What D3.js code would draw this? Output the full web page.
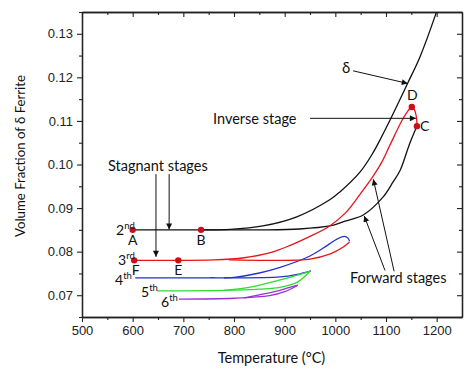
<!DOCTYPE html>
<html>
<head>
<meta charset="utf-8">
<script src="https://cdn.jsdelivr.net/npm/d3@7"></script>
<style>
  body { margin: 0; background: #fff; }
  .tick text { font-family: "Liberation Sans", Arial, sans-serif; font-size: 13px; fill: #222; }
  .ann { font-family: Lato, "Open Sans", sans-serif; font-size: 14px; fill: #111; }
</style>
</head>
<body>
<svg id="chart"></svg>
<script>
// temperature (°C) vs volume fraction
var deltaCurve = [[600,0.085],[735,0.085],[792,0.0851],[857,0.0859],[924,0.0880],[989,0.0919],[1009,0.0937],[1049,0.0983],[1074,0.1026],[1088,0.1056],[1108,0.1102],[1143,0.1187],[1167,0.1247],[1199,0.1348],[1205,0.137]];
var forward2 = [[735,0.085],[850,0.0850],[930,0.0852],[989,0.0859],[1019,0.0870],[1055,0.0884],[1094,0.0925],[1114,0.0960],[1128,0.0987],[1147,0.1049],[1161,0.1088]];
var red3 = [[603,0.078],[690,0.078],[760,0.0781],[820,0.0786],[870,0.0797],[910,0.0814],[950,0.0835],[989,0.0859],[1020,0.0889],[1049,0.0932],[1074,0.0972],[1092,0.1006],[1108,0.1045],[1132,0.1102],[1142,0.1121],[1151,0.1132],[1156,0.1126],[1160,0.1109],[1161,0.1088]];
var red3b = [[790,0.0781],[880,0.0780],[950,0.0783],[990,0.0795],[1015,0.0810],[1028,0.0822]];
var blue4 = [[605,0.074],[750,0.0740],[800,0.0741],[850,0.0751],[891,0.0764],[950,0.0790],[985,0.0815],[1005,0.0830],[1018,0.0835],[1025,0.0831],[1028,0.0824]];
var blue4b = [[780,0.0740],[891,0.0742],[925,0.0748],[952,0.0756]];
var green5 = [[648,0.0710],[780,0.0711],[850,0.0714],[891,0.0718],[925,0.0730],[950,0.0755]];
var green5b = [[780,0.0711],[830,0.0718],[891,0.0735],[930,0.0748],[950,0.0755]];
var purple6 = [[691,0.0691],[800,0.0693],[870,0.0699],[900,0.0708],[926,0.0723]];
var purple6b = [[820,0.0694],[880,0.0708],[910,0.0718],[926,0.0723]];

var points = [["A",600,0.085],["B",735,0.085],["F",603,0.078],["E",690,0.078],["D",1151,0.1132],["C",1161,0.1088]];
var xTicks = [500,600,700,800,900,1000,1100,1200];
var yTicks = [0.07,0.08,0.09,0.10,0.11,0.12,0.13];

var width = 474, height = 380;
var margin = {top: 12, right: 12, bottom: 63, left: 82};

var svg = d3.select("#chart").attr("width", width).attr("height", height);

var x = d3.scaleLinear().domain([500,1250]).range([margin.left, width - margin.right]);
var y = d3.scaleLinear().domain([0.065,0.135]).range([height - margin.bottom, margin.top]);

var xMinor = d3.range(550,1250,100), yMinor = d3.range(0.065,0.135,0.01);

svg.append("defs").append("clipPath").attr("id","clip")
  .append("rect").attr("x", margin.left).attr("y", margin.top)
  .attr("width", x.range()[1]-margin.left).attr("height", y.range()[0]-margin.top);

function axisStyle(g){
  g.select(".domain").attr("stroke","#222").attr("stroke-width",1.3);
  g.selectAll(".tick line").attr("stroke","#222").attr("stroke-width",1.1);
}

// bottom / left
svg.append("g").attr("transform","translate(0,"+y.range()[0]+")")
  .call(d3.axisBottom(x).tickValues(xTicks).tickFormat(d3.format("d")).tickSize(5).tickPadding(4).tickSizeOuter(0))
  .call(axisStyle);
svg.append("g").attr("transform","translate(0,"+y.range()[0]+")")
  .call(d3.axisBottom(x).tickValues(xMinor).tickFormat("").tickSize(3).tickSizeOuter(0)).call(axisStyle);
svg.append("g").attr("transform","translate("+margin.left+",0)")
  .call(d3.axisLeft(y).tickValues(yTicks).tickFormat(d3.format(".2f")).tickSize(5).tickPadding(4).tickSizeOuter(0))
  .call(axisStyle);
svg.append("g").attr("transform","translate("+margin.left+",0)")
  .call(d3.axisLeft(y).tickValues(yMinor).tickFormat("").tickSize(3).tickSizeOuter(0)).call(axisStyle);
// top / right, ticks inward
svg.append("g").attr("transform","translate(0,"+margin.top+")")
  .call(d3.axisBottom(x).tickValues(xTicks).tickFormat("").tickSize(5).tickSizeOuter(0)).call(axisStyle);
svg.append("g").attr("transform","translate(0,"+margin.top+")")
  .call(d3.axisBottom(x).tickValues(xMinor).tickFormat("").tickSize(3).tickSizeOuter(0)).call(axisStyle);
svg.append("g").attr("transform","translate("+x.range()[1]+",0)")
  .call(d3.axisLeft(y).tickValues(yTicks).tickFormat("").tickSize(-5).tickSizeOuter(0)).call(axisStyle)
  .selectAll(".tick line").attr("x2",-5);
svg.append("g").attr("transform","translate("+x.range()[1]+",0)")
  .call(d3.axisLeft(y).tickValues(yMinor).tickFormat("").tickSize(-3).tickSizeOuter(0)).call(axisStyle)
  .selectAll(".tick line").attr("x2",-3);

// axis titles
svg.append("text").attr("class","ann").attr("transform","translate(25,156) rotate(-90)")
  .attr("text-anchor","middle").style("font-size","13.2px").text("Volume Fraction of δ Ferrite");
svg.append("text").attr("class","ann").attr("x",271.5).attr("y",363)
  .attr("text-anchor","middle").style("font-size","14.5px").text("Temperature (°C)");

var line = d3.line().x(function(d){return x(d[0])}).y(function(d){return y(d[1])}).curve(d3.curveCatmullRom.alpha(0.5));

var plot = svg.append("g").attr("clip-path","url(#clip)");
var series = [
  [deltaCurve,"#111"],[forward2,"#111"],
  [purple6b,"#9b30d0"],[purple6,"#9b30d0"],
  [blue4b,"#2233cc"],
  [green5b,"#2fdc2f"],[green5,"#2fdc2f"],
  [blue4,"#2233cc"],
  [red3b,"#e8141c"],[red3,"#e8141c"]
];
series.forEach(function(s){
  plot.append("path").attr("d", line(s[0])).attr("fill","none").attr("stroke",s[1]).attr("stroke-width",1.3);
});

svg.selectAll(".pt").data(points).enter().append("circle").attr("class","pt")
  .attr("cx",function(d){return x(d[1])}).attr("cy",function(d){return y(d[2])}).attr("r",3.2).attr("fill","#c8101a");

// arrows
svg.append("defs").append("marker").attr("id","arr").attr("viewBox","0 0 10 10").attr("refX",10).attr("refY",5)
  .attr("markerWidth",8).attr("markerHeight",6).attr("markerUnits","userSpaceOnUse").attr("orient","auto")
  .append("path").attr("d","M0,0L10,5L0,10z").attr("fill","#111");

var arrows = [
  [646,0.0978,646,0.0788],
  [672,0.0978,672,0.0851],
  [950,0.1106,1159,0.1106],
  [1035,0.1215,1143,0.1186],
  [1116,0.0755,1075,0.0966],
  [1098,0.0757,1057,0.0882]
];
arrows.forEach(function(a){
  svg.append("line").attr("x1",x(a[0])).attr("y1",y(a[1])).attr("x2",x(a[2])).attr("y2",y(a[3]))
    .attr("stroke","#111").attr("stroke-width",1).attr("marker-end","url(#arr)");
});

// labels
function label(t,px,py,size,anchor){
  return svg.append("text").attr("class","ann").attr("x",px).attr("y",py)
    .attr("text-anchor",anchor||"start").style("font-size",(size||14)+"px").text(t);
}
label("Stagnant stages",108,171,14.5);
label("Inverse stage",213,124,14.5);
label("Forward stages",350,283,14.5);
label("δ",342,73,15);
label("D",407,100,14);
label("C",420,131,14);
label("A",x(600),245,14,"middle");
label("B",x(735),245,14,"middle");
label("F",x(604)+1,275,14,"middle");
label("E",x(690),275,14,"middle");

var ords = [["2","nd",116,235],["3","rd",118,265],["4","th",115,285],["5","th",141,297],["6","th",161,307]];
ords.forEach(function(o){
  var t = svg.append("text").attr("class","ann").attr("x",o[2]).attr("y",o[3]).style("font-size","14px");
  t.append("tspan").text(o[0]);
  t.append("tspan").attr("dy",-6).style("font-size","9.5px").text(o[1]);
});
</script>
</body>
</html>
